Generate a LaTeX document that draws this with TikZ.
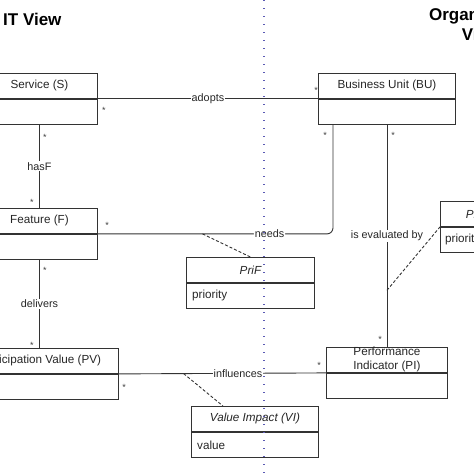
\documentclass[tikz,border=0pt]{standalone}
\usepackage{fontspec}
\setmainfont{Liberation Sans}
\usetikzlibrary{positioning}

\tikzset{
  clshead/.style={draw=black!80, line width=0.9pt, minimum height=25pt, inner sep=0pt,
    font=\fontsize{11.7}{14}\selectfont, text=black!85, align=center},
  assochead/.style={clshead, font=\fontsize{11.7}{14}\selectfont\itshape},
  clsbody/.style={draw=black!80, line width=0.9pt, minimum height=25pt, inner sep=0pt},
  attr/.style={font=\fontsize{11.7}{14}\selectfont, text=black!85, inner sep=0pt},
  assoc/.style={draw=black!80, line width=0.9pt},
  assocls/.style={draw=black!80, line width=0.9pt, dash pattern=on 3pt off 2pt},
  lbl/.style={fill=white, inner sep=1pt, font=\fontsize{10.8}{12}\selectfont, text=black!85},
  mult/.style={font=\fontsize{9}{9}\selectfont, text=black!75, inner sep=0pt, anchor=base},
  viewline/.style={draw={rgb,255:red,90;green,90;blue,180}, line width=1.3pt,
    dash pattern=on 1.3pt off 6.7pt},
  viewtitle/.style={font=\fontsize{17}{20}\selectfont\bfseries, inner sep=0pt}
}

\begin{document}
\begin{tikzpicture}[x=1pt, y=-1pt]
        \useasboundingbox (0,0) rectangle (474,474);
        \clip (0,0) rectangle (474,474);

        % View titles
        \node[viewtitle, anchor=base west] (itv) at (3,25) {IT View};
        \node[viewtitle, align=center, anchor=north] (orgv) at (481,7.6) {Organization\\View};

        % IT side classes
        \node[clshead, minimum width=116pt, anchor=north west] (S) at (-19,73) {Service (S)};
        \node[clsbody, minimum width=116pt, below=0pt of S] (Sb) {};
        \node[clshead, minimum width=116pt, anchor=north west] (F) at (-19,208) {Feature (F)};
        \node[clsbody, minimum width=116pt, below=0pt of F] (Fb) {};
        \node[clshead, minimum width=158pt, anchor=north west] (PV) at (-40,348) {Participation Value (PV)};
        \node[clsbody, minimum width=158pt, below=0pt of PV] (PVb) {};

        % Organization side classes
        \node[clshead, minimum width=137pt, anchor=north west] (BU) at (318,73) {Business Unit (BU)};
        \node[clsbody, minimum width=137pt, below=0pt of BU] (BUb) {};
        \node[clshead, minimum width=121pt, anchor=north west] (PI) at (326,347) {Performance\\Indicator (PI)};
        \node[clsbody, minimum width=121pt, below=0pt of PI] (PIb) {};

        % Association classes
        \node[assochead, minimum width=128pt, anchor=north west] (PriF) at (186,257) {PriF};
        \node[clsbody, minimum width=128pt, below=0pt of PriF] (PriFb) {};
        \node[attr, anchor=west] (PriFa) at ([xshift=6pt]PriFb.west) {priority};
        \node[assochead, minimum width=127pt, anchor=north west] (VI) at (191,406) {Value Impact (VI)};
        \node[clsbody, minimum width=127pt, below=0pt of VI] (VIb) {};
        \node[attr, anchor=west] (VIa) at ([xshift=6pt]VIb.west) {value};
        \node[assochead, minimum width=76pt, anchor=north west] (PP) at (440,201) {PriPI};
        \node[clsbody, minimum width=76pt, below=0pt of PP] (PPb) {};
        \node[attr, anchor=west] (PPa) at ([xshift=5pt]PPb.west) {priority};

        % Associations
        \draw[assoc] (S.south east) -- node[lbl] {adopts} (BU.south west);
        \draw[assoc] (Sb.south) -- node[lbl] {hasF} (F.north);
        \draw[assoc] (Fb.south) -- node[lbl] {delivers} (PV.north);
        \coordinate (BUl) at ([xshift=15pt]BUb.south west);
        \draw[assoc, rounded corners=6pt] (F.south east) -- coordinate[pos=0.445] (nd)
            node[lbl, pos=0.73] {needs} (F.south east -| BUl) -- (BUl);
        \draw[assoc] (BUb.south) -- coordinate[pos=0.745] (ev)
            node[lbl] {is evaluated by} (PI.north);
        \draw[assoc] (PV.south east) -- coordinate[pos=0.3125] (inf)
            node[lbl, pos=0.575] {influences} (PI.south west);

        % Links to association classes
        \draw[assocls] (nd) -- (PriF.north);
        \draw[assocls] (inf) -- ([xshift=-32pt]VI.north);
        \draw[assocls] (ev) -- (PP.south west);

        % Multiplicities
        \node[mult] (m1) at (104,113.2) {*};
        \node[mult] (m2) at (45,140.2) {*};
        \node[mult] (m3) at (32,205.2) {*};
        \node[mult] (m4) at (107,228.2) {*};
        \node[mult] (m5) at (45,273.2) {*};
        \node[mult] (m6) at (32,348.2) {*};
        \node[mult] (m7) at (124,390.2) {*};
        \node[mult] (m8) at (316,93.2) {*};
        \node[mult] (m9) at (325,138.2) {*};
        \node[mult] (m10) at (393,138.2) {*};
        \node[mult] (m11) at (380,342.2) {*};
        \node[mult] (m12) at (319,368.2) {*};

        % View border
        \draw[viewline] (264,0) -- (264,474);
\end{tikzpicture}
\end{document}
